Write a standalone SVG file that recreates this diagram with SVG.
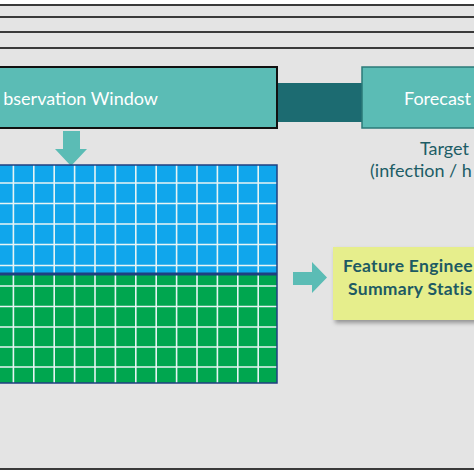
<svg xmlns="http://www.w3.org/2000/svg" width="474" height="474" viewBox="0 0 474 474">
<style>
.rule{stroke:#3a3a3a;stroke-width:2;fill:none}
.teal{fill:#5bbcb5}
.grid{stroke:#e6f4f4;stroke-width:1.6;fill:none}
.wt{font-family:Lato,"Open Sans",sans-serif;font-size:18px;fill:#ffffff}
.dt{font-family:Lato,"Open Sans",sans-serif;font-size:18px;fill:#1d5d66}
.bt{font-family:Lato,"Open Sans",sans-serif;font-size:17.5px;font-weight:bold;fill:#1d5a63;letter-spacing:0.3px}
.arrow{fill:#5bbcb5}
</style>
<defs>
<filter id="sh" x="-10%" y="-10%" width="130%" height="140%">
<feDropShadow dx="2" dy="3" stdDeviation="2" flood-color="#000" flood-opacity="0.35"/>
</filter>
</defs>
<rect x="0" y="0" width="474" height="474" fill="#ffffff"/>
<rect x="0" y="5" width="474" height="464" fill="#e4e4e4"/>
<g id="rules">
<line class="rule" x1="0" y1="5" x2="474" y2="5"/>
<line class="rule" x1="0" y1="17" x2="474" y2="17"/>
<line class="rule" x1="0" y1="32" x2="474" y2="32"/>
<line class="rule" x1="0" y1="48" x2="474" y2="48"/>
<line class="rule" x1="0" y1="469" x2="474" y2="469"/>
</g>
<g id="connectors">
<rect x="277" y="83" width="86" height="39" fill="#1c6b71"/>
<polygon class="arrow" points="63,131 80,131 80,149 87,149 71,166 55,149 63,149"/>
<polygon class="arrow" points="293,272 312,272 312,262 327,277.5 312,293 312,285 293,285"/>
</g>
<g id="observation-window">
<rect class="teal" x="-5" y="67" width="282" height="61" stroke="#111" stroke-width="2"/>
<text class="wt" x="158" y="105" text-anchor="end">bservation Window</text>
</g>
<g id="forecast">
<rect class="teal" x="362" y="67" width="120" height="61" stroke="#2b7a78" stroke-width="1.5"/>
<text class="wt" x="404" y="105">Forecast</text>
</g>
<g id="target">
<text class="dt" x="420" y="155">Target</text>
<text class="dt" x="370" y="177">(infection / h</text>
</g>
<g id="data-grid">
<rect x="0" y="165" width="277" height="108" fill="#10a6ec"/>
<rect x="0" y="273" width="277" height="110" fill="#00a64f"/>
<path class="grid" d="M13.4 165V383M33.8 165V383M54.2 165V383M74.6 165V383M95 165V383M115.4 165V383M135.8 165V383M156.2 165V383M176.6 165V383M197 165V383M217.4 165V383M237.8 165V383M258.2 165V383M0 183H277M0 203.5H277M0 224H277M0 244.5H277M0 265.5H277M0 286H277M0 306.5H277M0 327H277M0 347H277M0 367H277"/>
<line x1="0" y1="274" x2="277" y2="274" stroke="#1f3f80" stroke-width="3"/>
<rect x="-2" y="165" width="279" height="218" fill="none" stroke="#1f3f80" stroke-width="1.5"/>
</g>
<g id="feature-engineering">
<rect x="333" y="247" width="150" height="73" fill="#e6ee8c" filter="url(#sh)"/>
<text class="bt" x="343" y="272">Feature Enginee</text>
<text class="bt" x="348" y="295">Summary Statis</text>
</g>
</svg>
